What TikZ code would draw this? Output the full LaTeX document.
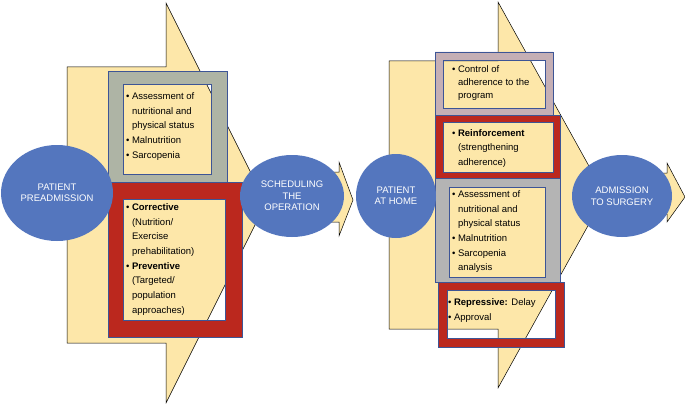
\documentclass[tikz,border=0pt]{standalone}
\usepackage{fontspec}
\setmainfont{Liberation Sans}
\usetikzlibrary{shapes.geometric}
\begin{document}
\begin{tikzpicture}[x=1pt,y=-1pt,
  arr/.style={fill=ayel,draw=black,line width=0.5pt},
  ell/.style={ellipse,fill=eblue,text=white,align=center,font=\fontsize{9.5}{11.5}\selectfont,inner sep=0pt},
  edge/.style={draw=fblue,line width=0.5pt},
  txt/.style={anchor=north west,inner sep=0pt}]
\definecolor{ayel}{HTML}{FDE7A9}
\definecolor{eblue}{HTML}{5476BE}
\definecolor{fgray}{HTML}{AEB4A5}
\definecolor{fgray2}{HTML}{B4B4B4}
\definecolor{fred}{HTML}{BB281E}
\definecolor{fpur}{HTML}{C5AFB5}
\definecolor{fblue}{HTML}{3D5596}
\useasboundingbox (0,0) rectangle (685,404);
\fill[white] (0,0) rectangle (685,404);
\newcommand\lft[2]{\fontsize{9.5}{#1}\selectfont\begin{tabular}{@{}l@{\hspace{2.5pt}}l@{}}#2\end{tabular}}
% arrows
\draw[arr] (67,67) -- (166,67) -- (166,3) -- (266,203) -- (166,403) -- (166,343) -- (67,343) -- cycle;
\draw[arr] (300,172) -- (339,172) -- (339,162) -- (353,200) -- (339,236) -- (339,222) -- (300,222) -- cycle;
\draw[arr] (389,61) -- (498,61) -- (498,2) -- (605,195) -- (498,388) -- (498,329) -- (389,329) -- cycle;
\draw[arr] (640,173) -- (667,173) -- (667,163) -- (685,197) -- (667,222) -- (667,214) -- (640,214) -- cycle;
% left frames
\fill[fgray,even odd rule] (108,71) rectangle (227,182) (123,84) rectangle (211,174);
\draw[edge] (108,71) rectangle (227,182) (123,84) rectangle (211,174);
\fill[fred,even odd rule] (108,182) rectangle (242,337) (123,199) rectangle (225,320);
\draw[edge] (108,182) rectangle (242,337) (123,199) rectangle (225,320);
% right frames
\fill[fpur,even odd rule] (435,52) rectangle (553,115) (443,60) rectangle (545,108);
\draw[edge] (435,52) rectangle (553,115) (443,60) rectangle (545,108);
\fill[fred,even odd rule] (435,115) rectangle (560,178) (443,122) rectangle (553,172);
\draw[edge] (435,115) rectangle (560,178) (443,122) rectangle (553,172);
\fill[fgray2,even odd rule] (435,178) rectangle (560,282) (449,187) rectangle (545,277);
\draw[edge] (435,178) rectangle (560,282) (449,187) rectangle (545,277);
\fill[fred,even odd rule] (438,282) rectangle (564,347) (447,290) rectangle (555,338);
\draw[edge] (438,282) rectangle (564,347) (447,290) rectangle (555,338);
% ellipses
\node[ell,minimum width=112pt,minimum height=96pt] (pre) at (57,193) {PATIENT\\PREADMISSION};
\node[ell,minimum width=104pt,minimum height=82pt] (sch) at (292,196) {SCHEDULING\\THE\\OPERATION};
\node[ell,minimum width=80pt,minimum height=84pt] (home) at (396,196) {PATIENT\\AT HOME};
\node[ell,minimum width=100pt,minimum height=82pt] (adm) at (622,196) {ADMISSION\\TO SURGERY};
% texts
\node[txt] (t1) at (126,89) {\lft{14.7}{•&Assessment of\\&nutritional and\\&physical status\\•&Malnutrition\\•&Sarcopenia}};
\node[txt] (t2) at (126,200) {\lft{14.7}{•&\textbf{Corrective}\\&(Nutrition/\\&Exercise\\&prehabilitation)\\•&\textbf{Preventive}\\&(Targeted/\\&population\\&approaches)}};
\node[txt] (t3) at (452,63) {\lft{13}{•&Control of\\&adherence to the\\&program}};
\node[txt] (t4) at (452,126) {\lft{14.5}{•&\textbf{Reinforcement}\\&(strengthening\\&adherence)}};
\node[txt] (t5) at (452,187) {\lft{14.7}{•&Assessment of\\&nutritional and\\&physical status\\•&Malnutrition\\•&Sarcopenia\\&analysis}};
\node[txt] (t6) at (448,295) {\lft{14.7}{•&\textbf{Repressive:} Delay\\•&Approval}};
\end{tikzpicture}
\end{document}
